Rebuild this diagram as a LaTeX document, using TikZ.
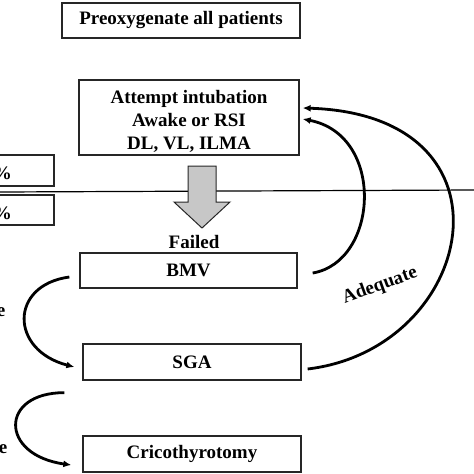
\documentclass[tikz,border=0pt]{standalone}
\usepackage{fontspec}
\setmainfont{Liberation Serif}
\usetikzlibrary{arrows.meta,positioning}

\begin{document}
\begin{tikzpicture}[
  x=1pt, y=-1pt,
  font=\fontsize{19}{23}\selectfont\bfseries,
  block/.style={rectangle, draw=black!85, line width=1.3pt, align=center, inner sep=0pt},
  curve/.style={-{Latex[length=8pt,width=7pt]}, line width=2.8pt},
  txt/.style={inner sep=0pt}
]
\useasboundingbox (0,0) rectangle (474,474);
\clip (0,0) rectangle (474,474);

% divider across the page
\draw[line width=1.2pt] (0,192) -- (474,190);

% main column
\node[block, minimum width=238pt, minimum height=35pt] (preox) at (181,20.5) {Preoxygenate all patients};
\node[block, minimum width=220pt, minimum height=75pt] (attempt) at (189,117.5) {\rule{0pt}{21pt}Attempt intubation\\Awake or RSI\\DL, VL, ILMA};
\node[block, minimum width=217pt, minimum height=35pt] (bmv) at (188.5,270.5) {BMV};
\node[block, minimum width=218pt, minimum height=36pt] (sga) at (192,362) {SGA};
\node[block, minimum width=218pt, minimum height=36pt] (crico) at (192,454) {Cricothyrotomy};

% cut-off boxes on the left
\node[block, minimum width=114pt, minimum height=31pt] (lefttop) at (-3,170.5) {};
\node[block, minimum width=114pt, minimum height=30pt] (leftbot) at (-3,210) {};
\node[txt, anchor=base east] (pcttop) at (12,179) {\%};
\node[txt, anchor=base east] (pctbot) at (12,219) {\%};
\node[txt, anchor=base east] (etop) at (5.5,316) {e};
\node[txt, anchor=base east] (ebot) at (7.5,453) {e};

% failed arrow
\filldraw[fill=black!22, draw=black!85, line width=1pt]
  (188,166) -- (216,166) -- (216,202) -- (230,202) -- (202,228) -- (174,202) -- (188,202) -- cycle;
\node[txt] (failed) at (194,242) {Failed};

% back to intubation
\draw[curve] ([xshift=15pt,yshift=-2.5pt]bmv.east) .. controls +(66,-11) and +(83,16) .. ([xshift=3pt,yshift=-1.5pt]attempt.east);
\draw[curve] ([xshift=6pt,yshift=-7pt]sga.east) .. controls +(168,-20) and +(223,7) .. ([xshift=3pt,yshift=9.5pt]attempt.east);
\node[txt, rotate=20] (adequate) at (380,286) {Adequate};

% down the left side
\draw[curve] ([xshift=-10pt,yshift=-6.5pt]bmv.west) .. controls +(-60,8) and +(-65,-17) .. ([xshift=-8pt,yshift=-5pt]sga.west);
\draw[curve] ([xshift=-18pt,yshift=-12pt]sga.south west) .. controls +(-65,0) and +(-72,-10) .. ([xshift=-11pt,yshift=-11pt]crico.west);
\end{tikzpicture}
\end{document}
